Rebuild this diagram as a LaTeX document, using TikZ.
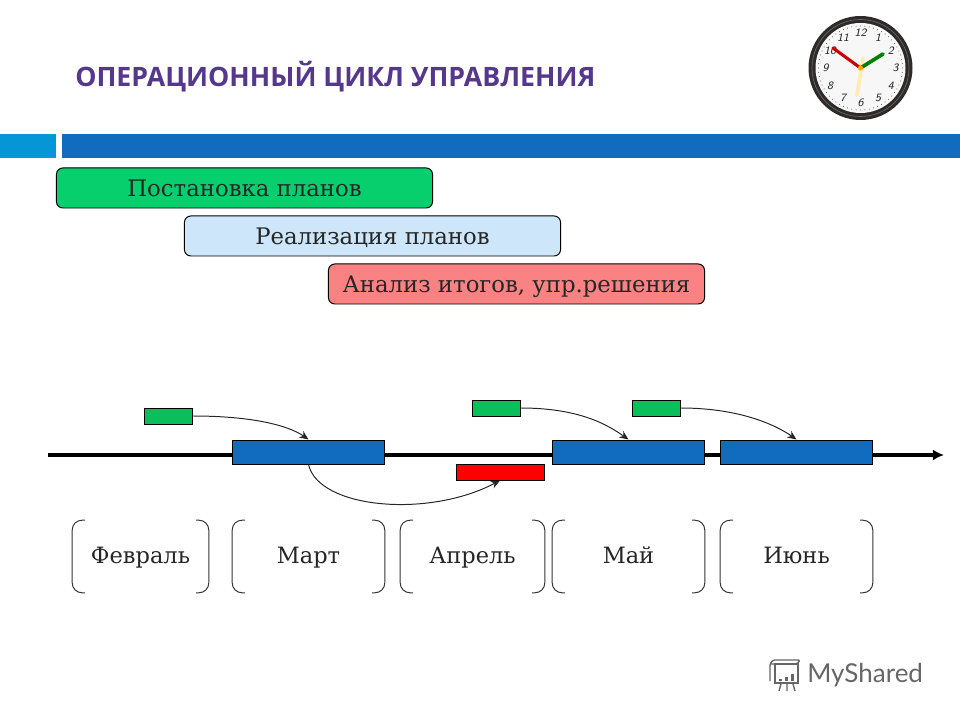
\documentclass[tikz,border=0pt]{standalone}
\usepackage{fontspec}
\setmainfont{DejaVu Serif}
\newfontfamily\titlefont{Open Sans}
\newfontfamily\markfont{Lato}
\usetikzlibrary{arrows.meta}
\definecolor{kgreen}{RGB}{8,207,110}
\definecolor{kgreensm}{RGB}{10,190,90}
\definecolor{kblue}{RGB}{17,107,190}
\definecolor{kcyan}{RGB}{5,150,215}
\definecolor{kpale}{RGB}{205,230,250}
\definecolor{kpink}{RGB}{250,130,130}
\definecolor{kpurple}{RGB}{85,55,140}
\tikzset{
 planbox/.style={draw=black,line width=0.7pt,rounded corners=4.5pt,minimum width=9.4cm,minimum height=1cm,inner sep=0pt,text height=15pt,text depth=3pt,font=\fontsize{16.2}{18}\selectfont,text=black!85},
 taskbox/.style={draw=black,line width=0.7pt,minimum width=1.2cm,minimum height=0.4cm,inner sep=0pt,fill=kgreensm},
 workbox/.style={draw=black,line width=0.7pt,minimum width=3.8cm,minimum height=0.6cm,inner sep=0pt,fill=kblue},
 monthbox/.style={minimum height=1.8cm,inner sep=0pt,text height=13pt,text depth=3pt,font=\fontsize{16}{18}\selectfont,text=black!85},
 flow/.style={-{Stealth[length=6.5pt,width=5.5pt]},line width=0.7pt,black!85},
 bracket/.style={black!80,line width=0.7pt,rounded corners=7pt}
}
\begin{document}
\begin{tikzpicture}[x=0.025cm,y=-0.025cm]
\useasboundingbox (0,0) rectangle (960,720);
% top bar
\fill[kcyan](0,134) rectangle (56,158);
\fill[kblue](62,134) rectangle (960,158);
\node[anchor=west,inner sep=0pt,text=kpurple,font=\titlefont\bfseries\fontsize{19}{21}\selectfont] (title) at (75,77) {ОПЕРАЦИОННЫЙ ЦИКЛ УПРАВЛЕНИЯ};
% clock
\pgfmathsetmacro{\kcx}{860.5}
\pgfmathsetmacro{\kcy}{68}
\fill[black!90!olive](\kcx,\kcy) circle (52);
\draw[black!60,line width=0.5pt](\kcx,\kcy) circle (48.5);
\fill[black!3](\kcx,\kcy) circle (45);
\foreach \kt in {0,6,...,354}{\fill[black!70]({\kcx+42*sin(\kt)},{\kcy-42*cos(\kt)}) circle (0.5);}
\foreach \kh in {1,...,12}{\node[inner sep=0pt,text=black!85,font=\sffamily\itshape\fontsize{8}{9}\selectfont] (h\kh) at ({\kcx+35*sin(30*\kh)},{\kcy-35*cos(30*\kh)}) {\kh};}
\draw[line width=2.6pt,yellow!60!orange!30,line cap=round](863,58)--(857,95);
\draw[line width=2.2pt,red!80!black,line cap=round](\kcx,\kcy)--(833,48);
\draw[line width=2.6pt,green!50!black,line cap=round](\kcx,\kcy)--(883,54);
\fill[orange!70!yellow](\kcx,\kcy) circle (2.5);
% plans
\node[planbox,fill=kgreen] (plan) at (244.5,188) {Постановка планов};
\node[planbox,fill=kpale] (real) at (372.5,236) {Реализация планов};
\node[planbox,fill=kpink] (anal) at (516.5,284) {Анализ итогов, упр.решения};
% time axis
\coordinate (ta) at (48,455);
\coordinate (tb) at (944,455);
\draw[line width=2.8pt,-{Latex[length=8pt,width=8pt]}](ta)--(tb);
\node[workbox] (w1) at (308.5,452) {};
\node[workbox] (w2) at (628.5,452) {};
\node[workbox] (w3) at (796.5,452) {};
\node[taskbox] (g1) at (168,416) {};
\node[taskbox] (g2) at (496,408) {};
\node[taskbox] (g3) at (656,408) {};
\node[draw=black,line width=0.7pt,minimum width=2.2cm,minimum height=0.4cm,inner sep=0pt,fill=red] (rd) at (500,472) {};
\draw[flow](g1.east) .. controls +(60,0) and +(-20,-14) .. (w1.north);
\draw[flow](g2.east) .. controls +(60,0) and +(-20,-14) .. (w2.north);
\draw[flow](g3.east) .. controls +(60,0) and +(-20,-14) .. (w3.north);
\draw[flow](w1.south) .. controls +(10,44) and +(-72,38) .. (rd.south);
% months
\foreach \kname/\kx/\kw/\klb in {feb/140.5/3.4/Февраль,mar/308.5/3.8/Март,apr/472.5/3.6/Апрель,may/628.5/3.8/Май,jun/796.5/3.8/Июнь}{
\node[monthbox,minimum width=\kw cm] (\kname) at (\kx,556.5) {\klb};
\draw[bracket]([xshift=9pt]\kname.north west)-|(\kname.south west)--([xshift=9pt]\kname.south west);
\draw[bracket]([xshift=-9pt]\kname.north east)-|(\kname.south east)--([xshift=-9pt]\kname.south east);
}
% watermark
\draw[black!60,line width=1pt,rounded corners=1pt](770,664)--(797,664)--(800,660)--(773,660)--(770,664)--(770,681);
\draw[black!60,line width=1pt](775,664) rectangle (798,683);
\foreach \kbx/\kbh in {779/2,785/4,791/7}{\fill[black!60](\kbx,681) rectangle ({\kbx+3},{681-\kbh});}
\draw[black!60,line width=1pt](781,684)--(779,691) (787,684)--(787,691) (793,684)--(795,691);
\node[anchor=west,inner sep=0pt,text=black!60,font=\markfont\fontsize{18.5}{20}\selectfont] (mark) at (807,675) {MyShared};
\end{tikzpicture}
\end{document}
